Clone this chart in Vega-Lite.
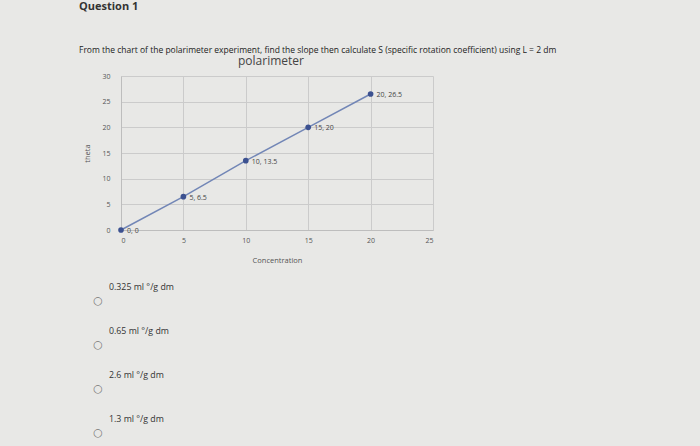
{
  "$schema": "https://vega.github.io/schema/vega-lite/v6.json",
  "background": "#e8e8e6",
  "padding": {"left": 78, "top": 0, "right": 150, "bottom": 0},
  "title": {
    "text": "Question 1",
    "subtitle": "From the chart of the polarimeter experiment, find the slope then calculate S (specific rotation coefficient) using L = 2 dm",
    "anchor": "start",
    "dx": -5,
    "font": "Open Sans",
    "fontSize": 11,
    "fontWeight": "bold",
    "color": "#333333",
    "subtitleFont": "Open Sans",
    "subtitleFontSize": 8.5,
    "subtitleColor": "#222222",
    "subtitlePadding": 34,
    "offset": 1
  },
  "config": {
    "view": {"stroke": null},
    "axis": {
      "labelFont": "Open Sans",
      "labelFontSize": 7,
      "labelColor": "#555555",
      "titleFont": "Open Sans",
      "titleFontSize": 7.5,
      "titleFontWeight": "normal",
      "titleColor": "#555555",
      "gridColor": "#cbcbcb",
      "domainColor": "#bdbdbd",
      "ticks": false
    }
  },
  "spacing": 15,
  "vconcat": [
    {
      "width": 312,
      "height": 154,
      "title": {
        "text": "polarimeter",
        "font": "Open Sans",
        "fontSize": 12,
        "fontWeight": "normal",
        "color": "#444444",
        "frame": "group",
        "dx": -6,
        "offset": 4
      },
      "data": {
        "values": [
          {"concentration": 0, "theta": 0, "label": "0, 0"},
          {"concentration": 5, "theta": 6.5, "label": "5, 6.5"},
          {"concentration": 10, "theta": 13.5, "label": "10, 13.5"},
          {"concentration": 15, "theta": 20, "label": "15, 20"},
          {"concentration": 20, "theta": 26.5, "label": "20, 26.5"}
        ]
      },
      "encoding": {
        "x": {
          "field": "concentration",
          "type": "quantitative",
          "scale": {"domain": [0, 25], "nice": false},
          "axis": {"values": [0, 5, 10, 15, 20, 25], "title": "Concentration", "labelPadding": 6, "titlePadding": 13}
        },
        "y": {
          "field": "theta",
          "type": "quantitative",
          "scale": {"domain": [0, 30], "nice": false},
          "axis": {"values": [0, 5, 10, 15, 20, 25, 30], "title": "theta", "labelPadding": 11, "titlePadding": 10}
        }
      },
      "layer": [
        {
          "mark": {"type": "line", "color": "#7286b6", "strokeWidth": 1.5}
        },
        {
          "mark": {"type": "point", "filled": true, "size": 32, "color": "#3c5190", "opacity": 1}
        },
        {
          "mark": {"type": "text", "align": "left", "dx": 6, "dy": 1, "font": "Open Sans", "fontSize": 7, "color": "#444444"},
          "encoding": {"text": {"field": "label"}}
        }
      ]
    },
    {
      "width": 24,
      "height": 176,
      "data": {
        "values": [
          {"option": "0.325 ml °/g dm"},
          {"option": "0.65 ml °/g dm"},
          {"option": "2.6 ml °/g dm"},
          {"option": "1.3 ml °/g dm"}
        ]
      },
      "encoding": {
        "y": {
          "field": "option",
          "type": "nominal",
          "sort": null,
          "axis": null,
          "scale": {"type": "point", "padding": 0.5}
        }
      },
      "layer": [
        {
          "mark": {"type": "text", "text": "○", "align": "center", "baseline": "middle", "dx": -35, "font": "DejaVu Sans", "fontSize": 11, "color": "#7a7a7a"}
        },
        {
          "mark": {"type": "text", "align": "left", "baseline": "middle", "dx": -24, "dy": -14, "font": "Open Sans", "fontSize": 8.8, "color": "#333333"},
          "encoding": {"text": {"field": "option"}}
        }
      ]
    }
  ]
}
